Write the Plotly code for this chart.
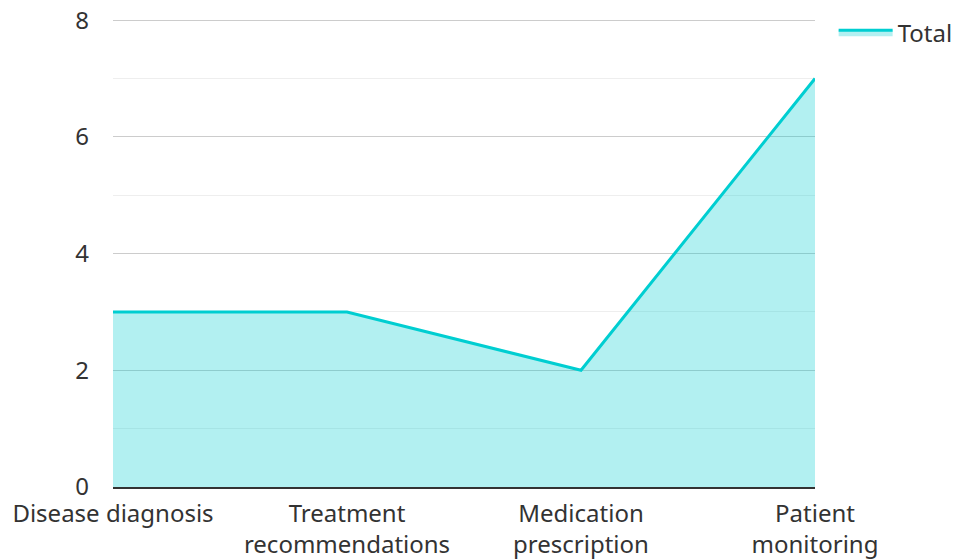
import plotly.graph_objects as go

categories = ["Disease diagnosis", "Treatment<br>recommendations", "Medication<br>prescription", "Patient<br>monitoring"]
total = [3, 3, 2, 7]
y_ticks = [0, 2, 4, 6, 8]

fig = go.Figure()
fig.add_trace(go.Scatter(
    x=categories, y=total, name="Total", mode="lines",
    line=dict(color="#00CED1", width=3),
    fill="tozeroy", fillcolor="rgba(0,206,209,0.3)",
))

fig.update_layout(
    width=956, height=560,
    margin=dict(l=113, r=141, t=19, b=73),
    plot_bgcolor="white", paper_bgcolor="white",
    font=dict(family="Noto Sans", size=24, color="#333333"),
    showlegend=True,
    legend=dict(xref="container", yref="container", x=0.872, y=0.982,
                xanchor="left", yanchor="top", itemwidth=54,
                font=dict(size=24, color="#333333"), bgcolor="rgba(0,0,0,0)"),
)
fig.update_xaxes(
    type="category", range=[0, 3], showgrid=False, automargin=False,
    showline=True, linecolor="#333333", linewidth=2,
    ticks="", tickangle=0, ticklabelstandoff=4,
)
fig.update_yaxes(
    range=[0, 8.02], tickvals=y_ticks, showgrid=True, gridcolor="#cccccc", gridwidth=1,
    zeroline=False, showline=False, ticks="", automargin=False,
    minor=dict(dtick=1, showgrid=True, gridcolor="#eeeeee", gridwidth=1),
    ticklabelstandoff=23,
)

fig.write_html("out.html")
